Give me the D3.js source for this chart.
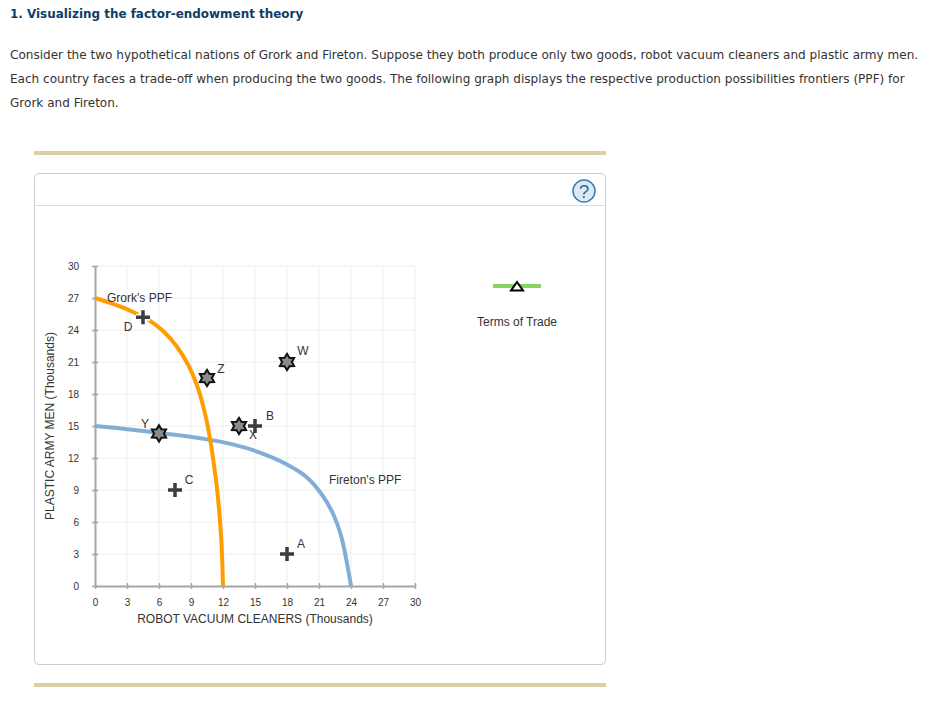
<!DOCTYPE html>
<html>
<head>
<meta charset="utf-8">
<script src="https://cdn.jsdelivr.net/npm/d3@7"></script>
<style>
  html, body { margin: 0; padding: 0; background: #fff; }
  svg { display: block; }
  .body-text { font-family: "DejaVu Sans", sans-serif; font-size: 12.05px; fill: #333; }
  .chart-text { font-family: "Liberation Sans", Arial, sans-serif; fill: #333; }
</style>
</head>
<body>
<svg id="page" width="946" height="702"></svg>
<script>
var paragraphLines = [
  "Consider the two hypothetical nations of Grork and Fireton. Suppose they both produce only two goods, robot vacuum cleaners and plastic army men.",
  "Each country faces a trade-off when producing the two goods. The following graph displays the respective production possibilities frontiers (PPF) for",
  "Grork and Fireton."
];
var tickValues = [0, 3, 6, 9, 12, 15, 18, 21, 24, 27, 30];

var grorkX = [0, 1.1, 2.65, 3.75, 5.09, 6.38, 7.67, 8.75, 9.6, 10.27, 10.77, 11.16, 11.47, 11.83, 12];
var grorkY = [27, 26.65, 26.1, 25.6, 24.9, 23.9, 22.45, 20.7, 18.7, 16.35, 13.9, 11.3, 8.85, 4.5, 0];
var firetonX = [0, 2.65, 5.95, 8.9, 10.8, 13, 15.2, 18, 19.85, 21.25, 22.35, 23.1, 24];
var firetonY = [15, 14.75, 14.35, 14, 13.7, 13.25, 12.6, 11.4, 10.2, 8.6, 6.7, 4.6, 0];

var plusNames = ["D", "B", "C", "A"];
var plusX = [4.5, 15, 7.5, 18];
var plusY = [25.2, 15, 9, 3];
var starNames = ["W", "Z", "X", "Y"];
var starX = [18, 10.5, 13.5, 6];
var starY = [21, 19.5, 15, 14.3];

var svg = d3.select("#page");

// question text above the graph
svg.append("text").attr("x", 10).attr("y", 18)
  .attr("class", "body-text")
  .style("font-weight", "bold").style("font-size", "11.95px").style("fill", "#0f3d63")
  .text("1. Visualizing the factor-endowment theory");

svg.selectAll("text.para").data(paragraphLines).enter().append("text")
  .attr("class", "para body-text")
  .attr("x", 10)
  .attr("y", function (d, i) { return 58.5 + i * 24; })
  .text(function (d) { return d; });

// gold rules and the panel
svg.append("rect").attr("x", 34).attr("y", 151).attr("width", 572).attr("height", 4).attr("fill", "#dccfa3");
svg.append("rect").attr("x", 34).attr("y", 683).attr("width", 572).attr("height", 4).attr("fill", "#dccfa3");
svg.append("rect").attr("x", 34.5).attr("y", 173.5).attr("width", 571).attr("height", 491).attr("rx", 4)
  .attr("fill", "#fff").attr("stroke", "#ccc");
svg.append("line").attr("x1", 35).attr("x2", 605).attr("y1", 205.5).attr("y2", 205.5).attr("stroke", "#ddd");

// help button
svg.append("circle").attr("cx", 584).attr("cy", 191).attr("r", 11)
  .attr("fill", "#dde9f3").attr("stroke", "#3f7caa").attr("stroke-width", 1.5);
svg.append("text").attr("x", 584).attr("y", 197.5).attr("text-anchor", "middle")
  .attr("class", "chart-text").style("font-size", "19px").style("fill", "#2f6b99").text("?");

var x = d3.scaleLinear().domain([0, 30]).range([95, 415]);
var y = d3.scaleLinear().domain([0, 30]).range([586, 266]);

// grid
var grid = svg.append("g").attr("stroke", "#f3f3f3").attr("stroke-width", 1.5);
tickValues.slice(1).forEach(function (t) {
  grid.append("line").attr("x1", x(t)).attr("x2", x(t)).attr("y1", y(0)).attr("y2", y(30));
  grid.append("line").attr("x1", x(0)).attr("x2", x(30)).attr("y1", y(t)).attr("y2", y(t));
});

// axes
function styleAxis(g) {
  g.selectAll(".domain").attr("stroke", "#a6a6a6").attr("stroke-width", 2);
  g.selectAll(".tick line").attr("stroke", "#a6a6a6").attr("stroke-width", 1.5);
  g.selectAll("text").attr("class", "chart-text").style("font-size", "10px");
}
var xAxis = d3.axisBottom(x).tickValues(tickValues).tickSize(3).tickSizeOuter(0);
var yAxis = d3.axisLeft(y).tickValues(tickValues).tickSize(3).tickSizeOuter(0);
var xG = svg.append("g").attr("transform", "translate(0,586)").call(xAxis);
var yG = svg.append("g").attr("transform", "translate(95,0)").call(yAxis);
xG.selectAll(".tick line").attr("y1", -3).attr("y2", 3);
yG.selectAll(".tick line").attr("x1", 3).attr("x2", -3);
xG.selectAll(".tick text").attr("y", 13);
yG.selectAll(".tick text").attr("x", -16).attr("text-anchor", "end");
styleAxis(xG);
styleAxis(yG);

svg.append("text").attr("x", 255).attr("y", 623).attr("text-anchor", "middle")
  .attr("class", "chart-text").style("font-size", "12px").text("ROBOT VACUUM CLEANERS (Thousands)");
svg.append("text").attr("transform", "translate(54,426) rotate(-90)").attr("text-anchor", "middle")
  .attr("class", "chart-text").style("font-size", "12px").text("PLASTIC ARMY MEN (Thousands)");

// PPF curves
var line = d3.line()
  .x(function (d) { return x(d[0]); })
  .y(function (d) { return y(d[1]); })
  .curve(d3.curveCatmullRom);

svg.append("path").datum(d3.zip(firetonX, firetonY)).attr("d", line)
  .attr("fill", "none").attr("stroke", "#82aed6").attr("stroke-width", 4);
svg.append("path").datum(d3.zip(grorkX, grorkY)).attr("d", line)
  .attr("fill", "none").attr("stroke", "#ff9d00").attr("stroke-width", 4);

svg.append("text").attr("x", 107).attr("y", 302).attr("class", "chart-text").style("font-size", "12px").text("Grork's PPF");
svg.append("text").attr("x", 329).attr("y", 484).attr("class", "chart-text").style("font-size", "12px").text("Fireton's PPF");

// plus markers
var plusPath = "M-7,0H7M0,-7V7";
var plusOffsets = { D: [-15, 14], B: [15, -6], C: [14, -6], A: [14, -6] };
plusNames.forEach(function (name, i) {
  var g = svg.append("g").attr("transform", "translate(" + x(plusX[i]) + "," + y(plusY[i]) + ")");
  g.append("path").attr("d", plusPath).attr("stroke", "#fff").attr("stroke-width", 7).attr("fill", "none");
  g.append("path").attr("d", plusPath).attr("stroke", "#3c3c3c").attr("stroke-width", 3.5).attr("fill", "none");
  g.append("text").attr("x", plusOffsets[name][0]).attr("y", plusOffsets[name][1])
    .attr("text-anchor", "middle").attr("class", "chart-text").style("font-size", "12px").text(name);
});

// six-pointed star markers
function starPath(outer, inner) {
  var pts = d3.range(12).map(function (k) {
    var a = k * Math.PI / 6, r = k % 2 ? inner : outer;
    return [r * Math.sin(a), -r * Math.cos(a)];
  });
  return "M" + pts.join("L") + "Z";
}
var starOffsets = { W: [16, -9], Z: [14, -7], X: [14, 11], Y: [-14, -7] };
starNames.forEach(function (name, i) {
  var g = svg.append("g").attr("transform", "translate(" + x(starX[i]) + "," + y(starY[i]) + ")");
  g.append("path").attr("d", starPath(8.2, 4.9)).attr("fill", "#8a8a8a").attr("stroke", "#111").attr("stroke-width", 2)
    .attr("stroke-linejoin", "miter");
  g.append("text").attr("x", starOffsets[name][0]).attr("y", starOffsets[name][1] + 2)
    .attr("text-anchor", "middle").attr("class", "chart-text").style("font-size", "12px").text(name);
});

// legend
svg.append("line").attr("x1", 493).attr("x2", 541).attr("y1", 286).attr("y2", 286)
  .attr("stroke", "#86d45f").attr("stroke-width", 4);
svg.append("path").attr("d", "M517,282L523,290.5H511Z").attr("fill", "#fff").attr("stroke", "#000").attr("stroke-width", 2);
svg.append("text").attr("x", 517).attr("y", 326).attr("text-anchor", "middle")
  .attr("class", "chart-text").style("font-size", "12px").text("Terms of Trade");
</script>
</body>
</html>
